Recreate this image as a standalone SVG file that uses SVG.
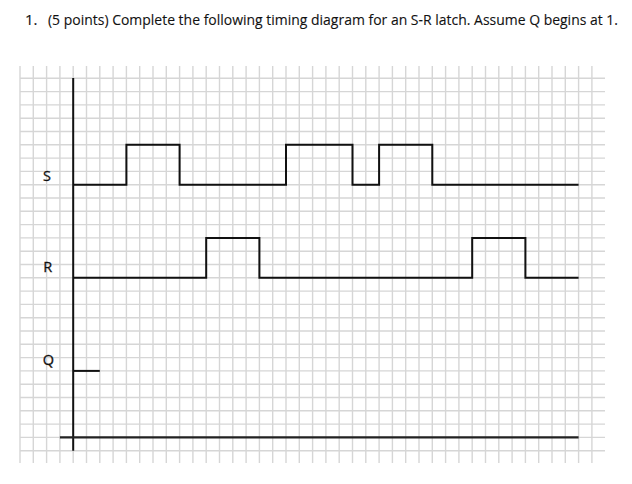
<svg xmlns="http://www.w3.org/2000/svg" width="632" height="484" viewBox="0 0 632 484">
<style>
.grid{stroke:#d6d6d6;stroke-width:1.4;fill:none}
.sig{stroke:#111;stroke-width:2;fill:none;stroke-linejoin:miter}
.axis{stroke:#111;stroke-width:2;fill:none}
.txt{font-family:"Open Sans","Liberation Sans",sans-serif;fill:#111;stroke:#111;stroke-width:0.3}
.ttl{font-family:"Open Sans","Liberation Sans",sans-serif;fill:#111;stroke:#111;stroke-width:0.12}
</style>
<rect width="632" height="484" fill="#fff"/>
<g id="grid" class="grid">
<path d="M20 66V463M33.3 66V463M46.6 66V463M59.9 66V463M73.2 66V463M86.5 66V463M99.8 66V463M113.1 66V463M126.4 66V463M139.7 66V463M153 66V463M166.3 66V463M179.6 66V463M192.9 66V463M206.2 66V463M219.5 66V463M232.8 66V463M246.1 66V463M259.4 66V463M272.7 66V463M286 66V463M299.3 66V463M312.6 66V463M325.9 66V463M339.2 66V463M352.5 66V463M365.8 66V463M379.1 66V463M392.4 66V463M405.7 66V463M419 66V463M432.3 66V463M445.6 66V463M458.9 66V463M472.2 66V463M485.5 66V463M498.8 66V463M512.1 66V463M525.4 66V463M538.7 66V463M552 66V463M565.3 66V463M578.6 66V463M591.9 66V463"/>
<path d="M20 78.3H605M20 91.6H605M20 104.9H605M20 118.2H605M20 131.5H605M20 144.8H605M20 158.1H605M20 171.4H605M20 184.7H605M20 198H605M20 211.3H605M20 224.6H605M20 237.9H605M20 251.2H605M20 264.5H605M20 277.8H605M20 291.1H605M20 304.4H605M20 317.7H605M20 331H605M20 344.3H605M20 357.6H605M20 370.9H605M20 384.2H605M20 397.5H605M20 410.8H605M20 424.1H605M20 437.4H605M20 450.7H605"/>
</g>
<g id="title" class="ttl" font-size="15">
<text x="25" y="24.5">1.</text>
<text x="48" y="24.5" textLength="570" lengthAdjust="spacingAndGlyphs">(5 points) Complete the following timing diagram for an S-R latch. Assume Q begins at 1.</text>
</g>
<g id="axes" class="axis">
<path d="M73.2 78V450.7"/>
<path d="M59.9 437.4H578.6" stroke="#222" stroke-width="2.4"/>
</g>
<g id="signal-S">
<text class="txt" x="47" y="180.7" font-size="14.5" text-anchor="middle">S</text>
<path class="sig" d="M73.2 184.7H126.4V144.8H179.6V184.7H286V144.8H352.5V184.7H379.1V144.8H432.3V184.7H578.6"/>
</g>
<g id="signal-R">
<text class="txt" x="47.8" y="271.7" font-size="14.5" text-anchor="middle">R</text>
<path class="sig" d="M73.2 277.8H206.2V237.9H259.4V277.8H472.2V237.9H525.4V277.8H578.6"/>
</g>
<g id="signal-Q">
<text class="txt" x="48.5" y="365" font-size="14.5" text-anchor="middle">Q</text>
<path class="sig" d="M73.2 370.9H99.8"/>
</g>
</svg>
